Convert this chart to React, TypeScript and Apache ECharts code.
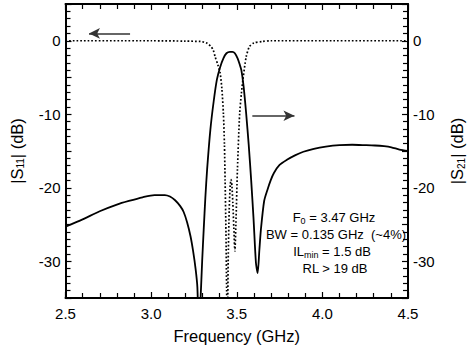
import React, { useEffect, useRef } from "react";
import * as echarts from "echarts";

// |S21| (solid, right axis): [frequency GHz, dB]
const s21Freq = [2.5, 2.6, 2.7, 2.8, 2.87, 2.95, 3.02, 3.08, 3.11, 3.14, 3.17, 3.19, 3.21, 3.23, 3.245, 3.26, 3.27, 3.279, 3.289, 3.298, 3.307, 3.317, 3.327, 3.346, 3.365, 3.384, 3.403, 3.422, 3.44, 3.46, 3.475, 3.489, 3.505, 3.517, 3.527, 3.54, 3.555, 3.57, 3.584, 3.598, 3.612, 3.622, 3.632, 3.641, 3.66, 3.679, 3.698, 3.717, 3.75, 3.793, 3.84, 3.889, 3.95, 4.02, 4.1, 4.174, 4.25, 4.307, 4.36, 4.403, 4.45, 4.5];
const s21Val = [-25.3, -24.3, -23.2, -22.3, -21.8, -21.3, -21.0, -21.0, -21.2, -21.7, -22.5, -23.3, -24.7, -26.6, -28.6, -31.1, -33.5, -40, -35, -30, -25.7, -21.2, -17.5, -12.1, -8.3, -5.3, -3.6, -2.4, -1.7, -1.5, -1.5, -1.7, -2.4, -3.2, -4.0, -6.2, -9.9, -14.2, -18.9, -24.2, -30.2, -31.6, -28.5, -25.7, -21.8, -20.3, -19.0, -18.0, -16.9, -16.2, -15.6, -15.1, -14.7, -14.4, -14.2, -14.15, -14.2, -14.25, -14.35, -14.5, -14.8, -15.0];

// |S11| (dotted, left axis)
const s11Freq = [2.5, 3.0, 3.2, 3.29, 3.31, 3.327, 3.35, 3.363, 3.374, 3.39, 3.403, 3.413, 3.422, 3.428, 3.432, 3.437, 3.441, 3.445, 3.45, 3.456, 3.462, 3.467, 3.472, 3.477, 3.483, 3.489, 3.495, 3.504, 3.517, 3.527, 3.536, 3.555, 3.574, 3.6, 3.65, 3.7, 4.0, 4.5];
const s11Val = [0, 0, -0.05, -0.1, -0.2, -0.35, -0.8, -1.3, -2.2, -3.3, -4.4, -6.5, -9.9, -14, -19, -26, -34, -40, -30, -23, -19.6, -18.9, -19.8, -22, -25.5, -28.6, -25, -17.5, -9.9, -7.2, -5.3, -2.2, -0.8, -0.3, -0.1, 0, 0, 0];

// Axis ranges / ticks
const xMin = 2.5, xMax = 4.5, xStep = 0.5;
const yMin = -35, yMax = 5, yStep = 5;

// Annotation arrows [from, to] in data coordinates
const arrowS11 = [[2.877, 1.0], [2.637, 1.0]];
const arrowS21 = [[3.591, -10.2], [3.837, -10.2]];

const FONT = "Liberation Sans, Arial, Helvetica, sans-serif";

export default function App() {
  const ref = useRef<HTMLDivElement>(null);
  useEffect(() => {
    document.body.style.margin = "0";
    const chart = echarts.init(ref.current!, null, { renderer: "svg" });
    const zip = (a: number[], b: number[]) => a.map((v, i) => [v, b[i]]);
    const axisLineStyle = { color: "#000", width: 2 };
    const xCommon = {
      type: "value" as const,
      min: xMin,
      max: xMax,
      interval: xStep,
      axisLine: { show: true, lineStyle: axisLineStyle, onZero: false },
      axisTick: { show: true, inside: true, length: 6, lineStyle: { color: "#000", width: 1.2 } },
      minorTick: { show: true, splitNumber: 5, length: 5, lineStyle: { color: "#000", width: 1.2 } },
      splitLine: { show: false },
      minorSplitLine: { show: false },
    };
    const yCommon = {
      type: "value" as const,
      min: yMin,
      max: yMax,
      interval: yStep,
      axisLine: { show: true, lineStyle: axisLineStyle, onZero: false },
      axisTick: { show: true, inside: true, length: 6, lineStyle: { color: "#000", width: 1.2 } },
      minorTick: { show: true, splitNumber: 5, length: 5, lineStyle: { color: "#000", width: 1.2 } },
      splitLine: { show: false },
      minorSplitLine: { show: false },
      axisLabel: {
        color: "#000",
        fontSize: 15,
        fontFamily: FONT,
        margin: 5,
        formatter: (v: number) => (Math.round(v) % 10 === 0 ? String(Math.round(v)) : ""),
      },
      nameLocation: "middle" as const,
      nameRotate: 90,
      nameGap: 40,
    };
    const nameStyle = {
      color: "#000",
      fontSize: 16.5,
      fontFamily: FONT,
      rich: {
        sub: { fontSize: 10, fontFamily: FONT, color: "#000", padding: [8, 0, 0, 0] },
      },
    };
    const arrowLine = (pts: number[][]) => ({
      silent: true,
      symbol: ["none", "arrow"],
      symbolSize: [8, 11],
      label: { show: false },
      lineStyle: { color: "#333", width: 1.5, type: "solid" },
      data: [[{ coord: pts[0] }, { coord: pts[1] }]],
    });
    const sub = { fontSize: 9, fontFamily: FONT, color: "#000", padding: [7, 0, 0, 0] };
    const annoText = (text: string, x: number, y: number) => ({
      type: "text",
      x,
      y,
      style: {
        text,
        fontSize: 13,
        fontFamily: FONT,
        fill: "#000",
        align: "center",
        verticalAlign: "middle",
        rich: { sub },
      },
    });
    chart.setOption({
      animation: false,
      backgroundColor: "#fff",
      textStyle: { fontFamily: FONT },
      grid: { left: 62, right: 62, top: 4, bottom: 51, show: false },
      xAxis: [
        {
          ...xCommon,
          position: "bottom",
          axisLabel: {
            color: "#000",
            fontSize: 15,
            fontFamily: FONT,
            margin: 8,
            formatter: (v: number) => v.toFixed(1),
          },
          name: "Frequency (GHz)",
          nameLocation: "middle",
          nameGap: 29,
          nameTextStyle: { color: "#000", fontSize: 16.5, fontFamily: FONT },
        },
        { ...xCommon, position: "top", axisLabel: { show: false } },
      ],
      yAxis: [
        { ...yCommon, position: "left", name: "|S{sub|11}| (dB)", nameTextStyle: nameStyle },
        { ...yCommon, position: "right", name: "|S{sub|21}| (dB)", nameTextStyle: nameStyle },
      ],
      series: [
        {
          type: "line",
          name: "S11",
          xAxisIndex: 0,
          yAxisIndex: 0,
          data: zip(s11Freq, s11Val),
          showSymbol: false,
          symbol: "none",
          smooth: 0.25,
          clip: true,
          lineStyle: { color: "#000", width: 1.7, type: [1.7, 2] },
          markLine: arrowLine(arrowS11),
        },
        {
          type: "line",
          name: "S21",
          xAxisIndex: 0,
          yAxisIndex: 1,
          data: zip(s21Freq, s21Val),
          showSymbol: false,
          symbol: "none",
          smooth: 0.25,
          clip: true,
          lineStyle: { color: "#000", width: 1.8 },
          markLine: arrowLine(arrowS21),
        },
      ],
      graphic: [
        annoText("F{sub|0} = 3.47 GHz", 334, 217),
        annoText("BW = 0.135 GHz  (~4%)", 336, 234),
        annoText("IL{sub|min} = 1.5 dB", 332, 251),
        annoText("RL > 19 dB", 335, 268),
      ],
    });
    return () => chart.dispose();
  }, []);
  return (
    <div
      ref={ref}
      style={{ position: "absolute", left: 0, top: 0, width: 474, height: 349 }}
    />
  );
}
